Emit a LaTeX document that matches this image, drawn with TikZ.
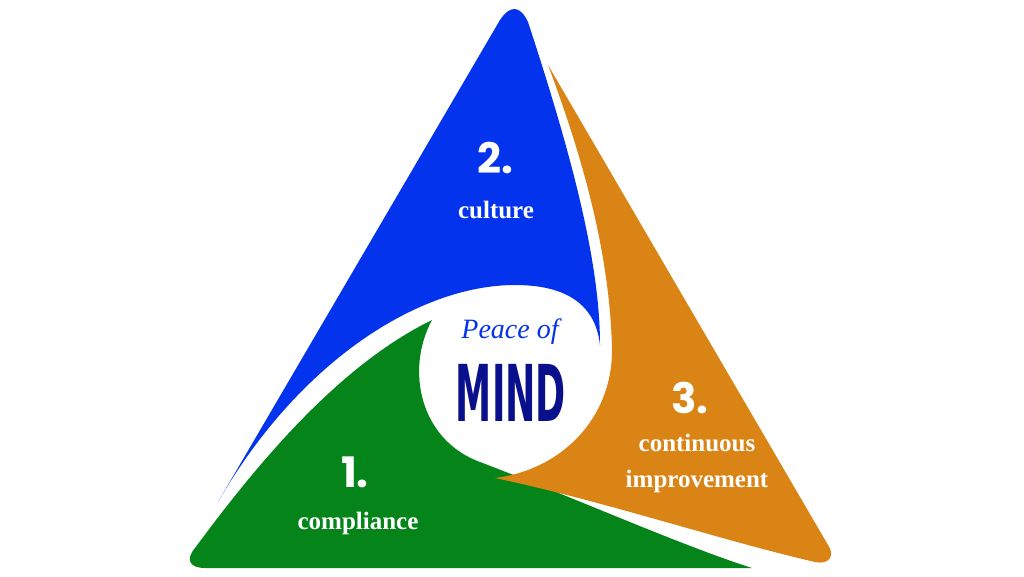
\documentclass[tikz,border=0pt]{standalone}
\usepackage{fontspec}
\setmainfont{Liberation Serif}
\newfontfamily\numfont{Poppins}
\newfontfamily\mindfont{DejaVu Sans Condensed}
\definecolor{cultureblue}{HTML}{0433EE}
\definecolor{complygreen}{HTML}{05841A}
\definecolor{improveorange}{HTML}{D98414}
\definecolor{mindnavy}{HTML}{0A0F8C}
\begin{document}
\begin{tikzpicture}[x=1pt,y=-1pt,
    num/.style={text=white,font=\numfont\bfseries\fontsize{42}{42}\selectfont},
    word/.style={text=white,font=\bfseries\fontsize{25}{36}\selectfont,align=center}]
\useasboundingbox[fill=white] (0,0) rectangle (1024,576);
% culture
\fill[cultureblue] (500,20) .. controls (510,5) and (520,5) .. (528,22)
  .. controls (570,150) and (600,260) .. (600,345)
  .. controls (595,300) and (560,285) .. (515,285)
  .. controls (420,285) and (300,360) .. (218,502)
  -- cycle;
% compliance
\fill[complygreen] (432,320) .. controls (405,370) and (420,440) .. (480,462)
  .. controls (580,500) and (680,545) .. (752,568)
  -- (205,568) .. controls (190,568) and (185,560) .. (195,548)
  .. controls (260,460) and (340,365) .. cycle;
% continuous improvement
\fill[improveorange] (548,65) .. controls (580,150) and (610,250) .. (612,350)
  .. controls (612,420) and (560,470) .. (495,478)
  .. controls (600,500) and (720,540) .. (815,562)
  .. controls (830,565) and (835,555) .. (828,545)
  -- cycle;
\node[num] (n2) at (495,158) {2.};
\node[word] (w2) at (496,210) {culture};
\node[num] (n1) at (355,472) {1.};
\node[word] (w1) at (358,523) {compliance};
\node[num] (n3) at (690,398) {3.};
\node[word] (w3) at (697,463) {continuous\\improvement};
\node[text=cultureblue,font=\itshape\fontsize{28}{28}\selectfont] (peace) at (510,332) {Peace of};
\node[text=mindnavy,font=\mindfont\bfseries\fontsize{56}{56}\selectfont,xscale=0.72,yscale=1.4] (mind) at (511,393) {MIND};
\end{tikzpicture}
\end{document}
